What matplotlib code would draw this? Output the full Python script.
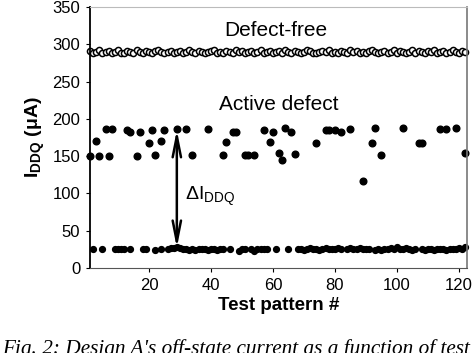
import matplotlib
matplotlib.use('Agg')
import matplotlib.pyplot as plt

plt.rcParams['font.family'] = ['Liberation Sans', 'DejaVu Sans']
plt.rcParams['mathtext.fontset'] = 'custom'
plt.rcParams['mathtext.rm'] = 'Liberation Sans'
plt.rcParams['mathtext.bf'] = 'Liberation Sans:bold'
plt.rcParams['mathtext.it'] = 'Liberation Sans:italic'

# defect-free current, one per pattern 1..122
free_y = [291, 289, 290, 292, 288, 290, 291, 289, 290, 292,
          289, 288, 291, 290, 289, 292, 290, 288, 291, 290,
          289, 291, 292, 290, 288, 290, 291, 289, 290, 291,
          288, 290, 292, 290, 289, 291, 290, 288, 290, 291,
          292, 289, 290, 288, 291, 290, 289, 292, 290, 291,
          288, 290, 291, 289, 290, 292, 289, 290, 291, 288,
          290, 291, 289, 292, 290, 288, 291, 290, 289, 290,
          292, 291, 289, 288, 290, 291, 290, 292, 289, 290,
          288, 291, 290, 289, 292, 290, 291, 289, 290, 288,
          291, 292, 290, 289, 290, 291, 288, 290, 292, 289,
          291, 290, 289, 290, 292, 288, 291, 290, 289, 291,
          290, 292, 288, 290, 291, 289, 290, 292, 290, 289,
          291, 290]
free_x = list(range(1, len(free_y) + 1))

# active defect, low state
low_x = [2, 5, 9, 10, 11, 12, 14, 18, 19, 22, 24,
         26, 27, 28, 29, 30, 31, 32, 33, 34, 35, 36, 37, 38, 39, 40, 41, 42, 43, 44,
         46, 49, 50, 51,
         53, 54, 55, 56, 57, 58,
         61, 65,
         68, 69, 70, 71, 72, 73, 74, 75, 76, 77, 78, 79, 80, 81, 82,
         84, 85, 86, 87, 88, 89, 90, 91,
         93, 94, 95, 96, 97, 98, 99, 100, 101, 102, 103, 104, 105, 106,
         108, 109, 110, 111, 112, 113, 114, 115, 116, 117, 118, 119, 120, 121, 122]
low_y = [26, 25, 25, 26, 25, 26, 25, 26, 25, 24, 25,
         26, 27, 27, 28, 27, 26, 25, 24, 25, 24, 25, 26, 25, 24, 26, 25, 24, 26, 25,
         26, 23, 25, 25,
         25, 23, 25, 26, 25, 26,
         26, 26,
         25, 26, 24, 26, 27, 25, 26, 24, 25, 27, 25, 26, 26, 27, 25,
         26, 27, 25, 26, 27, 26, 25, 26,
         24, 25, 24, 26, 25, 27, 26, 28, 26, 25, 27, 26, 24, 26,
         25, 24, 25, 26, 24, 25, 26, 25, 24, 26, 25, 26, 27, 26, 28]

# active defect, high state
high_x = [1, 3, 4, 6, 7, 8, 13, 14, 16, 17, 20, 21, 22, 24, 25, 29, 32, 34, 39,
          44, 45, 47, 48, 51, 52, 54, 57, 59, 60, 62, 63, 64, 66, 67, 74, 77,
          78, 80, 82, 85, 89, 92, 93, 95, 102, 107, 108, 114, 116, 119, 122]
high_y = [150, 170, 150, 186, 150, 186, 185, 183, 150, 183, 168, 185, 152, 170,
          185, 186, 186, 152, 186, 152, 169, 183, 183, 152, 151, 151, 185, 169,
          183, 154, 145, 188, 183, 153, 167, 185, 185, 185, 183, 186, 116, 167,
          188, 152, 188, 168, 167, 187, 186, 188, 154]

fig = plt.figure(figsize=(4.74, 3.53), dpi=100)
ax = fig.add_axes([0.190, 0.241, 0.795, 0.739])

ax.plot(free_x, free_y, 'o', ms=4.4, mfc='white', mec='k', mew=1.1, clip_on=False)
ax.plot(low_x, low_y, 'o', ms=4.2, color='k', clip_on=False)
ax.plot(high_x, high_y, 'o', ms=4.8, color='k', clip_on=False)

ax.annotate('', xy=(29, 27), xytext=(29, 185),
            arrowprops=dict(arrowstyle='<->,head_length=1.5,head_width=0.3',
                            lw=1.8, color='k', shrinkA=0, shrinkB=0))

ax.text(61, 319, 'Defect-free', fontsize=15, ha='center', va='center')
ax.text(62, 219, 'Active defect', fontsize=15, ha='center', va='center')
ax.text(31.5, 96, r'$\Delta$I$_{\rm DDQ}$', fontsize=14, ha='left', va='center')

ax.set_xlim(1, 122.6)
ax.set_ylim(0, 350)
ax.set_xticks([20, 40, 60, 80, 100, 120])
ax.set_yticks(range(0, 351, 50))
ax.tick_params(labelsize=12, length=3, width=0.8, pad=4)

ax.spines['left'].set_color('k')
ax.spines['left'].set_linewidth(1.3)
ax.spines['bottom'].set_color('#555555')
ax.spines['right'].set_color('#777777')
ax.spines['right'].set_linewidth(1.2)
ax.spines['top'].set_color('#bbbbbb')

ax.set_xlabel('Test pattern #', fontsize=13.5, fontweight='bold', labelpad=3)
ax.set_ylabel(r'$\mathbf{I_{DDQ}}$ ($\mathbf{\mu}$A)', fontsize=14, fontweight='bold', labelpad=4)

# caption, cut off by the bottom edge as in the source scan
fig.text(0.005, 0.038, "Fig. 2: Design A's off-state current as a function of test",
         fontsize=15.3, style='italic', family='Liberation Serif', ha='left', va='top')

fig.savefig('out.png', dpi=100)
